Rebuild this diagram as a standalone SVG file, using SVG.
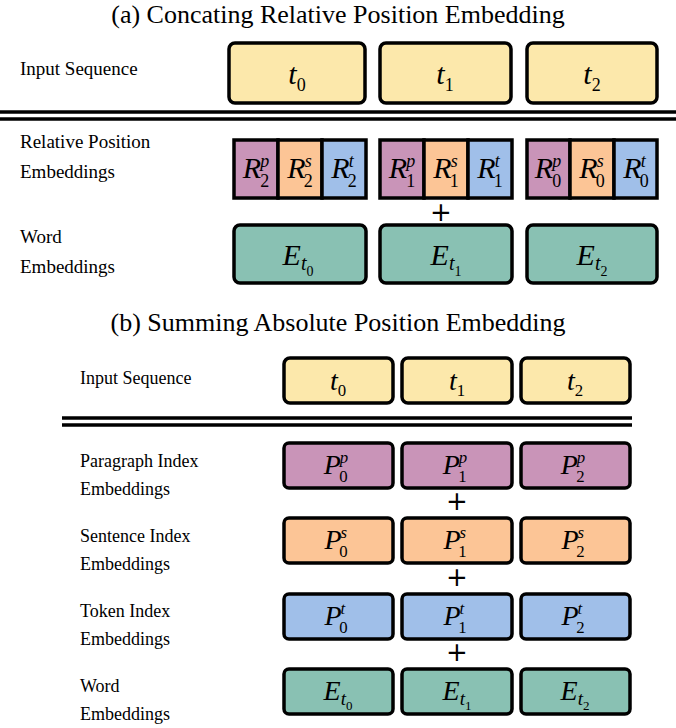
<svg xmlns="http://www.w3.org/2000/svg" width="676" height="728" viewBox="0 0 676 728">
<style>
.b{stroke:#000;stroke-width:3.5}
.y{fill:#fce8ab}.p{fill:#c994b8}.o{fill:#fcc596}.u{fill:#a0bfe9}.g{fill:#89c1b3}
.t{font-family:"Liberation Serif",serif;font-size:26px}
.l{font-family:"Liberation Serif",serif;font-size:19px}
.m{font-family:"Liberation Serif",serif;font-style:italic;font-size:30px;text-anchor:middle}
.n{font-family:"Liberation Serif",serif;font-style:italic;font-size:28px;text-anchor:middle}
.s{font-style:normal;font-size:0.6em}
.i{font-style:italic;font-size:0.6em}
.pl{font-family:"DejaVu Sans",sans-serif;font-size:26px;text-anchor:middle}
</style>
<g id="titles">
<text class="t" x="338" y="23" text-anchor="middle">(a) Concating Relative Position Embedding</text>
<text class="t" x="338" y="331" text-anchor="middle">(b) Summing Absolute Position Embedding</text>
</g>
<g id="labels" class="l">
<text x="20" y="75">Input Sequence</text>
<text x="20" y="148">Relative Position</text><text x="20" y="178">Embeddings</text>
<text x="20" y="243">Word</text><text x="20" y="273">Embeddings</text>
<text x="80" y="384" font-size="18">Input Sequence</text>
<text x="80" y="467" font-size="18">Paragraph Index</text><text x="80" y="495" font-size="18">Embeddings</text>
<text x="80" y="542" font-size="18">Sentence Index</text><text x="80" y="570" font-size="18">Embeddings</text>
<text x="80" y="617" font-size="18">Token Index</text><text x="80" y="645" font-size="18">Embeddings</text>
<text x="80" y="692" font-size="18">Word</text><text x="80" y="720" font-size="18">Embeddings</text>
</g>
<g id="separators" stroke="#000" stroke-width="3.5">
<line x1="0" y1="112" x2="676" y2="112"/><line x1="0" y1="119" x2="676" y2="119"/>
<line x1="62" y1="418" x2="632" y2="418"/><line x1="62" y1="425" x2="632" y2="425"/>
</g>
<g id="a-input">
<rect class="b y" x="229" y="43" width="136" height="60" rx="6"/>
<rect class="b y" x="380" y="43" width="131" height="60" rx="6"/>
<rect class="b y" x="527" y="43" width="130" height="60" rx="6"/>
<text class="m" x="297" y="84">t<tspan class="s" dy="7">0</tspan></text>
<text class="m" x="445" y="84">t<tspan class="s" dy="7">1</tspan></text>
<text class="m" x="592" y="84">t<tspan class="s" dy="7">2</tspan></text>
</g>
<g id="a-rel">
<rect class="b p" x="234" y="140" width="44" height="58"/><rect class="b o" x="278" y="140" width="44" height="58"/><rect class="b u" x="322" y="140" width="44" height="58"/>
<rect class="b p" x="380" y="140" width="44" height="58"/><rect class="b o" x="424" y="140" width="44" height="58"/><rect class="b u" x="468" y="140" width="44" height="58"/>
<rect class="b p" x="527" y="140" width="43" height="58"/><rect class="b o" x="570" y="140" width="44" height="58"/><rect class="b u" x="614" y="140" width="43" height="58"/>
<g class="m">
<text x="256" y="178">R<tspan class="i" dy="-11" dx="-1">p</tspan><tspan class="s" dy="20" dx="-9">2</tspan></text>
<text x="300" y="178">R<tspan class="i" dy="-11" dx="-1">s</tspan><tspan class="s" dy="20" dx="-8">2</tspan></text>
<text x="344" y="178">R<tspan class="i" dy="-11" dx="-1">t</tspan><tspan class="s" dy="20" dx="-6">2</tspan></text>
<text x="402" y="178">R<tspan class="i" dy="-11" dx="-1">p</tspan><tspan class="s" dy="20" dx="-9">1</tspan></text>
<text x="446" y="178">R<tspan class="i" dy="-11" dx="-1">s</tspan><tspan class="s" dy="20" dx="-8">1</tspan></text>
<text x="490" y="178">R<tspan class="i" dy="-11" dx="-1">t</tspan><tspan class="s" dy="20" dx="-6">1</tspan></text>
<text x="548" y="178">R<tspan class="i" dy="-11" dx="-1">p</tspan><tspan class="s" dy="20" dx="-9">0</tspan></text>
<text x="592" y="178">R<tspan class="i" dy="-11" dx="-1">s</tspan><tspan class="s" dy="20" dx="-8">0</tspan></text>
<text x="636" y="178">R<tspan class="i" dy="-11" dx="-1">t</tspan><tspan class="s" dy="20" dx="-6">0</tspan></text>
</g>
</g>
<g id="a-word">
<rect class="b g" x="234" y="225" width="132" height="58" rx="6"/>
<rect class="b g" x="380" y="225" width="132" height="58" rx="6"/>
<rect class="b g" x="527" y="225" width="130" height="58" rx="6"/>
<text class="m" x="298" y="265">E<tspan font-size="20" dy="5">t</tspan><tspan font-size="14" font-style="normal" dy="6">0</tspan></text>
<text class="m" x="446" y="265">E<tspan font-size="20" dy="5">t</tspan><tspan font-size="14" font-style="normal" dy="6">1</tspan></text>
<text class="m" x="592" y="265">E<tspan font-size="20" dy="5">t</tspan><tspan font-size="14" font-style="normal" dy="6">2</tspan></text>
</g>
<g id="connectors">
<text class="pl" x="441" y="221">+</text>
<text class="pl" x="457" y="510">+</text>
<text class="pl" x="457" y="586">+</text>
<text class="pl" x="457" y="661">+</text>
</g>
<g id="b-input">
<rect class="b y" x="284" y="358" width="109" height="45" rx="6"/>
<rect class="b y" x="402" y="358" width="110" height="45" rx="6"/>
<rect class="b y" x="521" y="358" width="109" height="45" rx="6"/>
<text class="n" x="338" y="390">t<tspan class="s" dy="6">0</tspan></text>
<text class="n" x="457" y="390">t<tspan class="s" dy="6">1</tspan></text>
<text class="n" x="575" y="390">t<tspan class="s" dy="6">2</tspan></text>
</g>
<g id="b-par">
<rect class="b p" x="284" y="443" width="109" height="45" rx="5"/>
<rect class="b p" x="402" y="443" width="110" height="45" rx="5"/>
<rect class="b p" x="521" y="443" width="109" height="45" rx="5"/>
<g class="n">
<text x="336" y="474">P<tspan class="i" dy="-11" dx="-1">p</tspan><tspan class="s" dy="19" dx="-9">0</tspan></text>
<text x="455" y="474">P<tspan class="i" dy="-11" dx="-1">p</tspan><tspan class="s" dy="19" dx="-9">1</tspan></text>
<text x="573" y="474">P<tspan class="i" dy="-11" dx="-1">p</tspan><tspan class="s" dy="19" dx="-9">2</tspan></text>
</g>
</g>
<g id="b-sen">
<rect class="b o" x="284" y="518" width="109" height="45" rx="5"/>
<rect class="b o" x="402" y="518" width="110" height="45" rx="5"/>
<rect class="b o" x="521" y="518" width="109" height="45" rx="5"/>
<g class="n">
<text x="336" y="549">P<tspan class="i" dy="-11" dx="-1">s</tspan><tspan class="s" dy="19" dx="-8">0</tspan></text>
<text x="455" y="549">P<tspan class="i" dy="-11" dx="-1">s</tspan><tspan class="s" dy="19" dx="-8">1</tspan></text>
<text x="573" y="549">P<tspan class="i" dy="-11" dx="-1">s</tspan><tspan class="s" dy="19" dx="-8">2</tspan></text>
</g>
</g>
<g id="b-tok">
<rect class="b u" x="284" y="594" width="109" height="45" rx="5"/>
<rect class="b u" x="402" y="594" width="110" height="45" rx="5"/>
<rect class="b u" x="521" y="594" width="109" height="45" rx="5"/>
<g class="n">
<text x="336" y="625">P<tspan class="i" dy="-11" dx="-1">t</tspan><tspan class="s" dy="19" dx="-6">0</tspan></text>
<text x="455" y="625">P<tspan class="i" dy="-11" dx="-1">t</tspan><tspan class="s" dy="19" dx="-6">1</tspan></text>
<text x="573" y="625">P<tspan class="i" dy="-11" dx="-1">t</tspan><tspan class="s" dy="19" dx="-6">2</tspan></text>
</g>
</g>
<g id="b-word">
<rect class="b g" x="284" y="669" width="109" height="45" rx="5"/>
<rect class="b g" x="402" y="669" width="110" height="45" rx="5"/>
<rect class="b g" x="521" y="669" width="109" height="45" rx="5"/>
<text class="n" x="338" y="700">E<tspan font-size="19" dy="5">t</tspan><tspan font-size="13" font-style="normal" dy="5">0</tspan></text>
<text class="n" x="457" y="700">E<tspan font-size="19" dy="5">t</tspan><tspan font-size="13" font-style="normal" dy="5">1</tspan></text>
<text class="n" x="575" y="700">E<tspan font-size="19" dy="5">t</tspan><tspan font-size="13" font-style="normal" dy="5">2</tspan></text>
</g>
</svg>
